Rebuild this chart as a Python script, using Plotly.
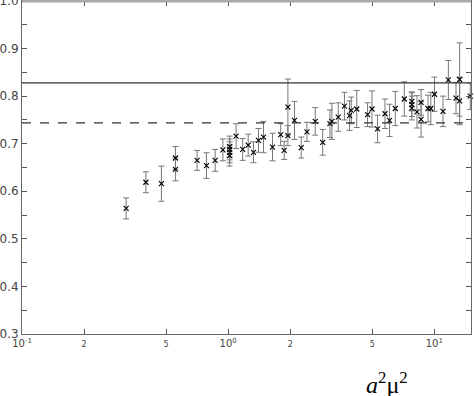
import plotly.graph_objects as go

# data
mu2 = [0.320, 0.399, 0.4745, 0.555, 0.555, 0.707, 0.785, 0.865, 0.943,
       1.017, 1.017, 1.017, 1.017, 1.093, 1.176, 1.251, 1.327, 1.403, 1.484,
       1.641, 1.798, 1.870, 1.949, 1.949, 2.098, 2.262, 2.410, 2.645, 2.875,
       3.117, 3.186, 3.420, 3.665, 3.880, 3.955, 4.206, 4.745, 4.985, 5.306,
       5.764, 6.067, 6.468, 7.153, 7.779, 7.779, 7.779, 8.241, 8.628, 8.628,
       9.320, 9.616, 10.02, 11.02, 11.70, 12.74, 13.27, 13.27, 14.95]
ratio = [0.564, 0.619, 0.616, 0.670, 0.646, 0.665, 0.654, 0.665, 0.687,
         0.694, 0.688, 0.682, 0.675, 0.716, 0.688, 0.697, 0.682, 0.707, 0.714,
         0.693, 0.719, 0.686, 0.777, 0.717, 0.749, 0.692, 0.725, 0.747, 0.703,
         0.742, 0.747, 0.756, 0.779, 0.759, 0.770, 0.773, 0.761, 0.773, 0.731,
         0.763, 0.749, 0.774, 0.794, 0.789, 0.782, 0.775, 0.767, 0.787, 0.751,
         0.774, 0.774, 0.804, 0.768, 0.834, 0.796, 0.835, 0.790, 0.800]
err = [0.022, 0.022, 0.037, 0.024, 0.024, 0.021, 0.027, 0.023, 0.023,
       0.022, 0.022, 0.022, 0.022, 0.026, 0.023, 0.023, 0.022, 0.025, 0.033,
       0.029, 0.023, 0.019, 0.059, 0.021, 0.040, 0.022, 0.020, 0.029, 0.027,
       0.029, 0.038, 0.030, 0.029, 0.031, 0.028, 0.039, 0.025, 0.038, 0.029,
       0.031, 0.034, 0.036, 0.036, 0.020, 0.025, 0.025, 0.034, 0.027, 0.037,
       0.028, 0.034, 0.036, 0.032, 0.041, 0.033, 0.077, 0.050, 0.028]

solid_level = 0.828
dashed_level = 0.744

x_tickvals = [0.1, 0.2, 0.5, 1, 2, 5, 10]
x_ticktext = ["10<sup>-1</sup>", "<span style='font-size:8px'>2</span>",
              "<span style='font-size:8px'>5</span>", "10<sup>0</sup>",
              "<span style='font-size:8px'>2</span>",
              "<span style='font-size:8px'>5</span>", "10<sup>1</sup>"]
y_tickvals = [0.3, 0.4, 0.5, 0.6, 0.7, 0.8, 0.9, 1.0]
y_ticktext = ["0.3", "0.4", "0.5", "0.6", "0.7", "0.8", "0.9", "1.0"]

fig = go.Figure()
fig.add_trace(go.Scatter(
    x=mu2, y=ratio, mode="markers",
    marker=dict(symbol="x-thin", size=5, color="black",
                line=dict(width=1.1, color="black")),
    error_y=dict(type="data", array=err, visible=True,
                 color="#777", thickness=1, width=3),
    showlegend=False, cliponaxis=False))

fig.add_shape(type="line", xref="paper", x0=0, x1=1, yref="y",
              y0=solid_level, y1=solid_level, line=dict(color="#333", width=1.3))
fig.add_shape(type="line", xref="paper", x0=0, x1=1, yref="y",
              y0=dashed_level, y1=dashed_level,
              line=dict(color="#333", width=1.3, dash="dash"))
fig.add_shape(type="line", xref="paper", x0=0, x1=1, yref="paper",
              y0=1, y1=1, line=dict(color="#aaa", width=3))

fig.add_annotation(text="<i>a</i><sup>2</sup>μ<sup>2</sup>", xref="paper", yref="paper",
                   x=0.813, y=-0.148, xanchor="center", yanchor="middle", showarrow=False,
                   font=dict(family="Liberation Serif", size=24, color="black"))

fig.update_xaxes(type="log", range=[-1, 1.178], tickmode="array",
                 tickvals=x_tickvals, ticktext=x_ticktext,
                 ticks="inside", ticklen=5, tickcolor="#555",
                 showline=True, linecolor="#666", linewidth=1, mirror="ticks",
                 showgrid=False, zeroline=False, automargin=False,
                 ticklabeloverflow="allow",
                 tickfont=dict(family="DejaVu Sans", size=10, color="#444"))
fig.update_yaxes(range=[0.3, 1.0], tickmode="array",
                 tickvals=y_tickvals, ticktext=y_ticktext,
                 ticks="inside", ticklen=5, tickcolor="#555",
                 minor=dict(dtick=0.05, tick0=0.3, ticks="inside", ticklen=5, tickcolor="#555"),
                 showline=True, linecolor="#666", linewidth=1, mirror="ticks",
                 showgrid=False, zeroline=False, automargin=False,
                 ticklabeloverflow="allow",
                 tickfont=dict(family="DejaVu Sans", size=12, color="#444"))

fig.update_layout(width=474, height=396,
                  margin=dict(l=22, r=3, t=1, b=62),
                  plot_bgcolor="white", paper_bgcolor="white")

fig.write_html("out.html", config={"displayModeBar": False},
               post_script="document.body.style.margin='0';")
